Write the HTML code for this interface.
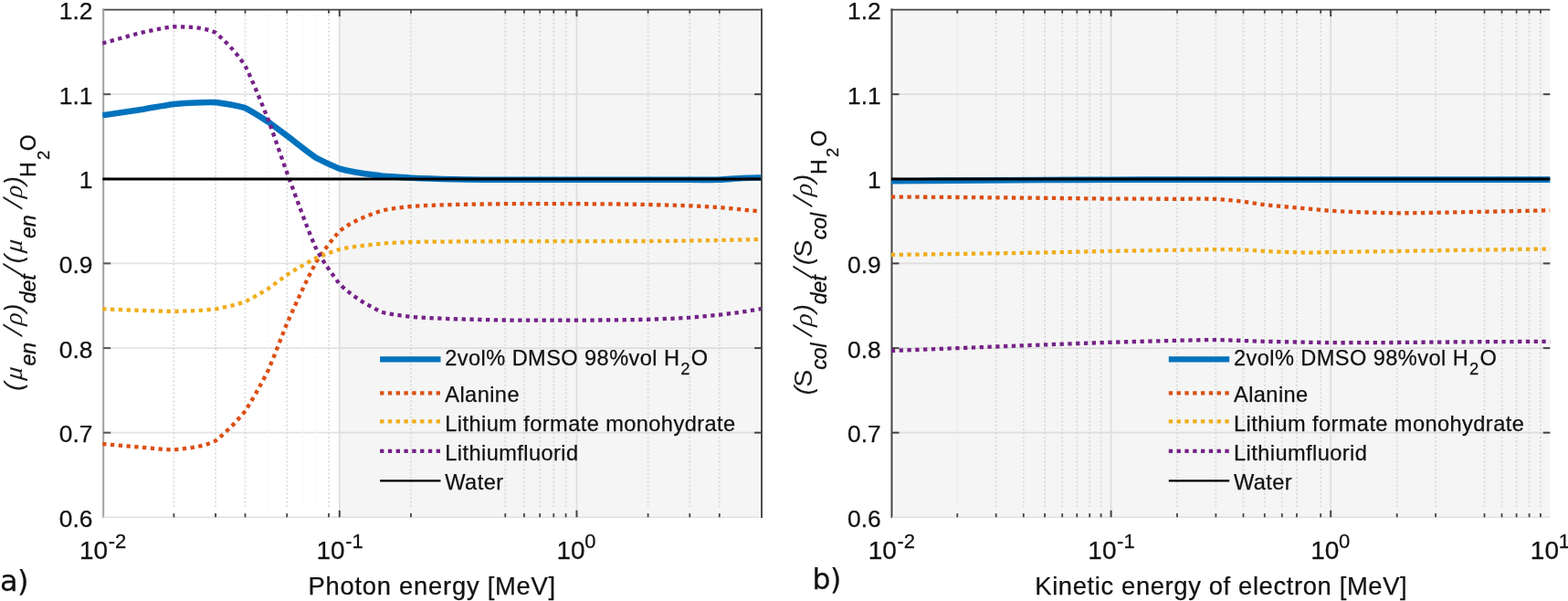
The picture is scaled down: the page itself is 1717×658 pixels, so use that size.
<!DOCTYPE html>
<html lang="en">
<head>
<meta charset="utf-8">
<title>Mass energy-absorption and collision stopping power ratios</title>
<style>
html, body { margin: 0; padding: 0; background: #ffffff; }
body { width: 1717px; height: 658px; overflow: hidden; }
svg { display: block; font-family: "Liberation Sans", Arial, Helvetica, sans-serif; fill: #1a1a1a; }
svg text { fill: #111; stroke: #111; stroke-width: 0.25px; }
svg .yl text { fill: #1c1c1c; stroke: none; }
svg .yl text.sub { fill: #111; stroke: #111; stroke-width: 0.3px; }
</style>
</head>
<body>
<svg width="1717" height="658" viewBox="0 0 1717 658">
<rect x="0" y="0" width="1717" height="658" fill="#ffffff"/>
<g>
<rect x="373.0" y="11.6" width="458.6" height="554.1" fill="#f5f5f5"/>
<line x1="112.2" y1="473.7" x2="373.0" y2="473.7" stroke="#e4e4e4" stroke-width="1.8"/>
<line x1="373.0" y1="473.7" x2="831.6" y2="473.7" stroke="#dedede" stroke-width="1.8"/>
<line x1="112.2" y1="381.1" x2="373.0" y2="381.1" stroke="#e4e4e4" stroke-width="1.8"/>
<line x1="373.0" y1="381.1" x2="831.6" y2="381.1" stroke="#dedede" stroke-width="1.8"/>
<line x1="112.2" y1="288.4" x2="373.0" y2="288.4" stroke="#e4e4e4" stroke-width="1.8"/>
<line x1="373.0" y1="288.4" x2="831.6" y2="288.4" stroke="#dedede" stroke-width="1.8"/>
<line x1="112.2" y1="195.8" x2="373.0" y2="195.8" stroke="#e4e4e4" stroke-width="1.8"/>
<line x1="373.0" y1="195.8" x2="831.6" y2="195.8" stroke="#dedede" stroke-width="1.8"/>
<line x1="112.2" y1="103.2" x2="373.0" y2="103.2" stroke="#e4e4e4" stroke-width="1.8"/>
<line x1="373.0" y1="103.2" x2="831.6" y2="103.2" stroke="#dedede" stroke-width="1.8"/>
<line x1="190.4" y1="16.0" x2="190.4" y2="557.3" stroke="#dcdcdc" stroke-width="1.8" stroke-dasharray="2 2.4"/>
<line x1="236.1" y1="16.0" x2="236.1" y2="557.3" stroke="#dcdcdc" stroke-width="1.8" stroke-dasharray="2 2.4"/>
<line x1="268.5" y1="16.0" x2="268.5" y2="557.3" stroke="#dcdcdc" stroke-width="1.8" stroke-dasharray="2 2.4"/>
<line x1="293.7" y1="16.0" x2="293.7" y2="557.3" stroke="#f6f6f6" stroke-width="1.8" stroke-dasharray="2 2.4"/>
<line x1="314.2" y1="16.0" x2="314.2" y2="557.3" stroke="#dcdcdc" stroke-width="1.8" stroke-dasharray="2 2.4"/>
<line x1="331.6" y1="16.0" x2="331.6" y2="557.3" stroke="#f6f6f6" stroke-width="1.8" stroke-dasharray="2 2.4"/>
<line x1="346.7" y1="16.0" x2="346.7" y2="557.3" stroke="#f6f6f6" stroke-width="1.8" stroke-dasharray="2 2.4"/>
<line x1="360.0" y1="16.0" x2="360.0" y2="557.3" stroke="#dcdcdc" stroke-width="1.8" stroke-dasharray="2 2.4"/>
<line x1="371.8" y1="10.6" x2="371.8" y2="566.3" stroke="#dedede" stroke-width="1.8"/>
<line x1="450.0" y1="16.0" x2="450.0" y2="557.3" stroke="#dadada" stroke-width="1.8" stroke-dasharray="2 2.4"/>
<line x1="553.3" y1="16.0" x2="553.3" y2="557.3" stroke="#dadada" stroke-width="1.8" stroke-dasharray="2 2.4"/>
<line x1="573.9" y1="16.0" x2="573.9" y2="557.3" stroke="#dadada" stroke-width="1.8" stroke-dasharray="2 2.4"/>
<line x1="591.2" y1="16.0" x2="591.2" y2="557.3" stroke="#dadada" stroke-width="1.8" stroke-dasharray="2 2.4"/>
<line x1="606.3" y1="16.0" x2="606.3" y2="557.3" stroke="#dadada" stroke-width="1.8" stroke-dasharray="2 2.4"/>
<line x1="619.6" y1="16.0" x2="619.6" y2="557.3" stroke="#dadada" stroke-width="1.8" stroke-dasharray="2 2.4"/>
<line x1="631.5" y1="10.6" x2="631.5" y2="566.3" stroke="#dedede" stroke-width="1.8"/>
<line x1="709.6" y1="16.0" x2="709.6" y2="557.3" stroke="#dadada" stroke-width="1.8" stroke-dasharray="2 2.4"/>
<line x1="755.3" y1="16.0" x2="755.3" y2="557.3" stroke="#dadada" stroke-width="1.8" stroke-dasharray="2 2.4"/>
<line x1="787.8" y1="16.0" x2="787.8" y2="557.3" stroke="#dadada" stroke-width="1.8" stroke-dasharray="2 2.4"/>
<line x1="112.2" y1="10.6" x2="835.0" y2="10.6" stroke="#444444" stroke-width="1.9"/>
<line x1="113.2" y1="9.6" x2="113.2" y2="566.9" stroke="#a2a2a2" stroke-width="2.0"/>
<line x1="113.2" y1="566.3" x2="831.6" y2="566.3" stroke="#e0e0e0" stroke-width="1.6"/>
<line x1="834.0" y1="9.6" x2="834.0" y2="567.1" stroke="#4c4c4c" stroke-width="2.0"/>
<line x1="113.2" y1="473.7" x2="121.2" y2="473.7" stroke="#555" stroke-width="2"/>
<line x1="826.1" y1="473.7" x2="833.6" y2="473.7" stroke="#444444" stroke-width="2"/>
<line x1="113.2" y1="381.1" x2="121.2" y2="381.1" stroke="#555" stroke-width="2"/>
<line x1="826.1" y1="381.1" x2="833.6" y2="381.1" stroke="#444444" stroke-width="2"/>
<line x1="113.2" y1="288.4" x2="121.2" y2="288.4" stroke="#555" stroke-width="2"/>
<line x1="826.1" y1="288.4" x2="833.6" y2="288.4" stroke="#444444" stroke-width="2"/>
<line x1="113.2" y1="195.8" x2="121.2" y2="195.8" stroke="#555" stroke-width="2"/>
<line x1="826.1" y1="195.8" x2="833.6" y2="195.8" stroke="#444444" stroke-width="2"/>
<line x1="113.2" y1="103.2" x2="121.2" y2="103.2" stroke="#555" stroke-width="2"/>
<line x1="826.1" y1="103.2" x2="833.6" y2="103.2" stroke="#444444" stroke-width="2"/>
<line x1="190.4" y1="10.6" x2="190.4" y2="14.8" stroke="#444444" stroke-width="1.8"/>
<line x1="190.4" y1="562.1" x2="190.4" y2="566.3" stroke="#444444" stroke-width="1.8"/>
<line x1="236.1" y1="10.6" x2="236.1" y2="14.8" stroke="#444444" stroke-width="1.8"/>
<line x1="236.1" y1="562.1" x2="236.1" y2="566.3" stroke="#444444" stroke-width="1.8"/>
<line x1="268.5" y1="10.6" x2="268.5" y2="14.8" stroke="#444444" stroke-width="1.8"/>
<line x1="268.5" y1="562.1" x2="268.5" y2="566.3" stroke="#444444" stroke-width="1.8"/>
<line x1="314.2" y1="10.6" x2="314.2" y2="14.8" stroke="#444444" stroke-width="1.8"/>
<line x1="314.2" y1="562.1" x2="314.2" y2="566.3" stroke="#444444" stroke-width="1.8"/>
<line x1="360.0" y1="10.6" x2="360.0" y2="14.8" stroke="#444444" stroke-width="1.8"/>
<line x1="360.0" y1="562.1" x2="360.0" y2="566.3" stroke="#444444" stroke-width="1.8"/>
<line x1="371.8" y1="10.6" x2="371.8" y2="18.1" stroke="#444444" stroke-width="2"/>
<line x1="371.8" y1="558.8" x2="371.8" y2="566.3" stroke="#444444" stroke-width="2"/>
<line x1="450.0" y1="10.6" x2="450.0" y2="14.8" stroke="#444444" stroke-width="1.8"/>
<line x1="450.0" y1="562.1" x2="450.0" y2="566.3" stroke="#444444" stroke-width="1.8"/>
<line x1="553.3" y1="10.6" x2="553.3" y2="14.8" stroke="#444444" stroke-width="1.8"/>
<line x1="553.3" y1="562.1" x2="553.3" y2="566.3" stroke="#444444" stroke-width="1.8"/>
<line x1="573.9" y1="10.6" x2="573.9" y2="14.8" stroke="#444444" stroke-width="1.8"/>
<line x1="573.9" y1="562.1" x2="573.9" y2="566.3" stroke="#444444" stroke-width="1.8"/>
<line x1="591.2" y1="10.6" x2="591.2" y2="14.8" stroke="#444444" stroke-width="1.8"/>
<line x1="591.2" y1="562.1" x2="591.2" y2="566.3" stroke="#444444" stroke-width="1.8"/>
<line x1="606.3" y1="10.6" x2="606.3" y2="14.8" stroke="#444444" stroke-width="1.8"/>
<line x1="606.3" y1="562.1" x2="606.3" y2="566.3" stroke="#444444" stroke-width="1.8"/>
<line x1="619.6" y1="10.6" x2="619.6" y2="14.8" stroke="#444444" stroke-width="1.8"/>
<line x1="619.6" y1="562.1" x2="619.6" y2="566.3" stroke="#444444" stroke-width="1.8"/>
<line x1="631.5" y1="10.6" x2="631.5" y2="18.1" stroke="#444444" stroke-width="2"/>
<line x1="631.5" y1="558.8" x2="631.5" y2="566.3" stroke="#444444" stroke-width="2"/>
<line x1="709.6" y1="10.6" x2="709.6" y2="14.8" stroke="#444444" stroke-width="1.8"/>
<line x1="709.6" y1="562.1" x2="709.6" y2="566.3" stroke="#444444" stroke-width="1.8"/>
<line x1="755.3" y1="10.6" x2="755.3" y2="14.8" stroke="#444444" stroke-width="1.8"/>
<line x1="755.3" y1="562.1" x2="755.3" y2="566.3" stroke="#444444" stroke-width="1.8"/>
<line x1="787.8" y1="10.6" x2="787.8" y2="14.8" stroke="#444444" stroke-width="1.8"/>
<line x1="787.8" y1="562.1" x2="787.8" y2="566.3" stroke="#444444" stroke-width="1.8"/>
<text x="101.5" y="576.7" font-size="26.4" text-anchor="end">0.6</text>
<text x="101.5" y="484.1" font-size="26.4" text-anchor="end">0.7</text>
<text x="101.5" y="391.5" font-size="26.4" text-anchor="end">0.8</text>
<text x="101.5" y="298.8" font-size="26.4" text-anchor="end">0.9</text>
<text x="101.5" y="206.2" font-size="26.4" text-anchor="end">1</text>
<text x="101.5" y="113.6" font-size="26.4" text-anchor="end">1.1</text>
<text x="101.5" y="21.0" font-size="26.4" text-anchor="end">1.2</text>
<text x="112.6" y="612.3" font-size="28" text-anchor="middle">10<tspan font-size="22" dy="-12.6" dx="0.6">-2</tspan></text>
<text x="372.2" y="612.3" font-size="28" text-anchor="middle">10<tspan font-size="22" dy="-12.6" dx="0.6">-1</tspan></text>
<text x="631.0" y="612.3" font-size="28" text-anchor="middle">10<tspan font-size="22" dy="-12.6" dx="-0.3">0</tspan></text>
<clipPath id="c1"><rect x="112.2" y="10.6" width="721.3" height="555.6999999999999"/></clipPath>
<g clip-path="url(#c1)">
<path d="M112.2,126.2 C127.4,123.9 142.7,121.8 157.9,119.4 C168.7,117.6 179.5,115.5 190.4,114.0 C205.6,112.8 220.8,111.6 236.1,112.1 C246.9,113.6 257.7,114.8 268.5,118.2 C276.9,122.4 285.3,128.0 293.7,133.4 C300.5,138.3 307.4,143.6 314.2,148.7 C325.0,156.8 335.9,166.0 346.7,173.2 C355.1,177.6 363.4,181.3 371.8,184.7 C387.1,188.9 402.3,190.5 417.6,192.6 C428.4,193.6 439.2,194.1 450.0,194.7 C465.2,195.4 480.5,195.9 495.7,196.3 C506.5,196.5 517.3,196.7 528.1,196.8 C536.5,196.8 544.9,196.8 553.3,196.8 C560.2,196.8 567.0,196.8 573.9,196.8 C584.7,196.8 595.5,196.8 606.3,196.8 C614.7,196.8 623.1,196.8 631.5,196.8 C639.9,196.8 648.2,196.8 656.6,196.8 C663.5,196.8 670.3,196.8 677.2,196.8 C688.0,196.8 698.8,196.8 709.6,196.8 C724.9,196.8 740.1,196.8 755.3,196.8 C766.2,196.8 777.0,197.0 787.8,196.8 C796.2,196.3 804.6,195.5 812.9,195.0 C819.8,194.8 826.6,194.7 833.5,194.5" fill="none" stroke="#0072BD" stroke-width="6.6" stroke-linejoin="round"/>
<path d="M112.2,486.1 C127.4,487.4 142.7,488.7 157.9,490.0 C168.7,490.9 179.5,492.4 190.4,492.5 C205.6,490.6 220.8,489.8 236.1,482.6 C246.9,473.7 257.7,463.4 268.5,450.0 C276.9,436.7 285.3,422.1 293.7,405.4 C300.5,389.6 307.4,370.8 314.2,354.3 C325.0,330.1 335.9,306.1 346.7,286.0 C355.1,273.4 363.4,262.7 371.8,253.0 C387.1,241.1 402.3,236.4 417.6,230.6 C428.4,228.2 439.2,227.3 450.0,226.0 C465.2,224.9 480.5,224.5 495.7,224.0 C506.5,223.8 517.3,223.7 528.1,223.5 C536.5,223.4 544.9,223.3 553.3,223.2 C560.2,223.2 567.0,223.2 573.9,223.2 C584.7,223.2 595.5,223.2 606.3,223.2 C614.7,223.2 623.1,223.2 631.5,223.2 C639.9,223.2 648.2,223.3 656.6,223.3 C663.5,223.4 670.3,223.4 677.2,223.5 C688.0,223.6 698.8,223.8 709.6,224.0 C724.9,224.4 740.1,224.7 755.3,225.3 C766.2,225.8 777.0,226.4 787.8,227.1 C796.2,227.8 804.6,228.7 812.9,229.5 C819.8,230.2 826.6,231.0 833.5,231.7" fill="none" stroke="#DC4E12" stroke-width="4.3" stroke-dasharray="4.3 4.5" stroke-linejoin="round"/>
<path d="M112.2,338.3 C127.4,338.9 142.7,339.5 157.9,340.0 C168.7,340.3 179.5,340.8 190.4,340.9 C205.6,340.4 220.8,340.1 236.1,338.3 C246.9,336.1 257.7,334.0 268.5,330.3 C276.9,326.2 285.3,321.2 293.7,316.0 C300.5,311.3 307.4,305.8 314.2,301.0 C325.0,294.2 335.9,287.8 346.7,282.2 C355.1,278.7 363.4,275.7 371.8,273.0 C387.1,269.7 402.3,268.4 417.6,266.7 C428.4,265.9 439.2,265.5 450.0,265.0 C465.2,264.6 480.5,264.6 495.7,264.5 C506.5,264.4 517.3,264.4 528.1,264.3 C536.5,264.3 544.9,264.2 553.3,264.2 C560.2,264.2 567.0,264.2 573.9,264.2 C584.7,264.2 595.5,264.2 606.3,264.2 C614.7,264.2 623.1,264.2 631.5,264.2 C639.9,264.2 648.2,264.1 656.6,264.1 C663.5,264.1 670.3,264.0 677.2,264.0 C688.0,264.0 698.8,264.0 709.6,264.0 C724.9,263.9 740.1,263.7 755.3,263.5 C766.2,263.3 777.0,263.2 787.8,263.0 C796.2,262.8 804.6,262.7 812.9,262.5 C819.8,262.3 826.6,262.2 833.5,262.0" fill="none" stroke="#F0AD1A" stroke-width="4.3" stroke-dasharray="4.3 4.5" stroke-linejoin="round"/>
<path d="M112.2,47.4 C127.4,43.3 142.7,38.7 157.9,35.0 C168.7,32.8 179.5,30.3 190.4,29.2 C205.6,29.8 220.8,28.8 236.1,35.8 C246.9,45.5 257.7,55.8 268.5,72.0 C276.9,89.2 285.3,110.1 293.7,131.0 C300.5,149.5 307.4,170.0 314.2,189.0 C325.0,218.0 335.9,249.1 346.7,273.5 C355.1,288.2 363.4,299.8 371.8,311.0 C387.1,325.6 402.3,333.9 417.6,341.6 C428.4,344.6 439.2,345.3 450.0,346.8 C465.2,348.1 480.5,348.5 495.7,349.2 C506.5,349.5 517.3,349.7 528.1,350.0 C536.5,350.2 544.9,350.4 553.3,350.5 C560.2,350.6 567.0,350.6 573.9,350.7 C584.7,350.7 595.5,350.7 606.3,350.7 C614.7,350.7 623.1,350.7 631.5,350.7 C639.9,350.7 648.2,350.6 656.6,350.5 C663.5,350.4 670.3,350.4 677.2,350.3 C688.0,350.2 698.8,350.0 709.6,349.8 C724.9,349.2 740.1,348.6 755.3,347.7 C766.2,346.8 777.0,345.8 787.8,344.7 C796.2,343.7 804.6,342.7 812.9,341.5 C819.8,340.4 826.6,339.2 833.5,338.0" fill="none" stroke="#742288" stroke-width="4.3" stroke-dasharray="4.3 4.5" stroke-linejoin="round"/>
<line x1="112.2" y1="196.0" x2="833.5" y2="196.0" stroke="#000" stroke-width="2.9"/>
</g>
</g>
<g>
<rect x="979.0" y="11.6" width="718.3" height="554.1" fill="#f5f5f5"/>
<line x1="979.0" y1="473.7" x2="1697.3" y2="473.7" stroke="#dedede" stroke-width="1.8"/>
<line x1="979.0" y1="381.1" x2="1697.3" y2="381.1" stroke="#dedede" stroke-width="1.8"/>
<line x1="979.0" y1="288.4" x2="1697.3" y2="288.4" stroke="#dedede" stroke-width="1.8"/>
<line x1="979.0" y1="195.8" x2="1697.3" y2="195.8" stroke="#dedede" stroke-width="1.8"/>
<line x1="979.0" y1="103.2" x2="1697.3" y2="103.2" stroke="#dedede" stroke-width="1.8"/>
<line x1="1048.3" y1="16.0" x2="1048.3" y2="557.3" stroke="#ebebeb" stroke-width="1.8" stroke-dasharray="2 2.4"/>
<line x1="1090.7" y1="16.0" x2="1090.7" y2="557.3" stroke="#dadada" stroke-width="1.8" stroke-dasharray="2 2.4"/>
<line x1="1120.8" y1="16.0" x2="1120.8" y2="557.3" stroke="#dadada" stroke-width="1.8" stroke-dasharray="2 2.4"/>
<line x1="1144.1" y1="16.0" x2="1144.1" y2="557.3" stroke="#dadada" stroke-width="1.8" stroke-dasharray="2 2.4"/>
<line x1="1163.2" y1="16.0" x2="1163.2" y2="557.3" stroke="#dadada" stroke-width="1.8" stroke-dasharray="2 2.4"/>
<line x1="1179.3" y1="16.0" x2="1179.3" y2="557.3" stroke="#dadada" stroke-width="1.8" stroke-dasharray="2 2.4"/>
<line x1="1193.2" y1="16.0" x2="1193.2" y2="557.3" stroke="#dadada" stroke-width="1.8" stroke-dasharray="2 2.4"/>
<line x1="1205.6" y1="16.0" x2="1205.6" y2="557.3" stroke="#dadada" stroke-width="1.8" stroke-dasharray="2 2.4"/>
<line x1="1216.6" y1="10.6" x2="1216.6" y2="566.3" stroke="#dedede" stroke-width="1.8"/>
<line x1="1289.0" y1="16.0" x2="1289.0" y2="557.3" stroke="#dadada" stroke-width="1.8" stroke-dasharray="2 2.4"/>
<line x1="1331.4" y1="16.0" x2="1331.4" y2="557.3" stroke="#dadada" stroke-width="1.8" stroke-dasharray="2 2.4"/>
<line x1="1361.5" y1="16.0" x2="1361.5" y2="557.3" stroke="#dadada" stroke-width="1.8" stroke-dasharray="2 2.4"/>
<line x1="1384.8" y1="16.0" x2="1384.8" y2="557.3" stroke="#dadada" stroke-width="1.8" stroke-dasharray="2 2.4"/>
<line x1="1403.8" y1="16.0" x2="1403.8" y2="557.3" stroke="#dadada" stroke-width="1.8" stroke-dasharray="2 2.4"/>
<line x1="1420.0" y1="16.0" x2="1420.0" y2="557.3" stroke="#dadada" stroke-width="1.8" stroke-dasharray="2 2.4"/>
<line x1="1446.2" y1="16.0" x2="1446.2" y2="557.3" stroke="#dadada" stroke-width="1.8" stroke-dasharray="2 2.4"/>
<line x1="1457.2" y1="10.6" x2="1457.2" y2="566.3" stroke="#dedede" stroke-width="1.8"/>
<line x1="1529.7" y1="16.0" x2="1529.7" y2="557.3" stroke="#dadada" stroke-width="1.8" stroke-dasharray="2 2.4"/>
<line x1="1572.1" y1="16.0" x2="1572.1" y2="557.3" stroke="#dadada" stroke-width="1.8" stroke-dasharray="2 2.4"/>
<line x1="1625.5" y1="16.0" x2="1625.5" y2="557.3" stroke="#dadada" stroke-width="1.8" stroke-dasharray="2 2.4"/>
<line x1="1644.5" y1="16.0" x2="1644.5" y2="557.3" stroke="#dadada" stroke-width="1.8" stroke-dasharray="2 2.4"/>
<line x1="1660.6" y1="16.0" x2="1660.6" y2="557.3" stroke="#dadada" stroke-width="1.8" stroke-dasharray="2 2.4"/>
<line x1="1674.6" y1="16.0" x2="1674.6" y2="557.3" stroke="#dadada" stroke-width="1.8" stroke-dasharray="2 2.4"/>
<line x1="1686.9" y1="16.0" x2="1686.9" y2="557.3" stroke="#dadada" stroke-width="1.8" stroke-dasharray="2 2.4"/>
<line x1="975.5" y1="10.6" x2="1697.3" y2="10.6" stroke="#444444" stroke-width="1.9"/>
<line x1="976.5" y1="9.6" x2="976.5" y2="566.9" stroke="#444444" stroke-width="2.0"/>
<line x1="976.9" y1="566.3" x2="1697.3" y2="566.3" stroke="#e0e0e0" stroke-width="1.6"/>
<line x1="976.5" y1="473.7" x2="984.5" y2="473.7" stroke="#444444" stroke-width="2"/>
<line x1="1689.8" y1="473.7" x2="1697.3" y2="473.7" stroke="#444444" stroke-width="2"/>
<line x1="976.5" y1="381.1" x2="984.5" y2="381.1" stroke="#444444" stroke-width="2"/>
<line x1="1689.8" y1="381.1" x2="1697.3" y2="381.1" stroke="#444444" stroke-width="2"/>
<line x1="976.5" y1="288.4" x2="984.5" y2="288.4" stroke="#444444" stroke-width="2"/>
<line x1="1689.8" y1="288.4" x2="1697.3" y2="288.4" stroke="#444444" stroke-width="2"/>
<line x1="976.5" y1="195.8" x2="984.5" y2="195.8" stroke="#444444" stroke-width="2"/>
<line x1="1689.8" y1="195.8" x2="1697.3" y2="195.8" stroke="#444444" stroke-width="2"/>
<line x1="976.5" y1="103.2" x2="984.5" y2="103.2" stroke="#444444" stroke-width="2"/>
<line x1="1689.8" y1="103.2" x2="1697.3" y2="103.2" stroke="#444444" stroke-width="2"/>
<line x1="1048.3" y1="10.6" x2="1048.3" y2="14.8" stroke="#444444" stroke-width="1.8"/>
<line x1="1048.3" y1="562.1" x2="1048.3" y2="566.3" stroke="#444444" stroke-width="1.8"/>
<line x1="1090.7" y1="10.6" x2="1090.7" y2="14.8" stroke="#444444" stroke-width="1.8"/>
<line x1="1090.7" y1="562.1" x2="1090.7" y2="566.3" stroke="#444444" stroke-width="1.8"/>
<line x1="1120.8" y1="10.6" x2="1120.8" y2="14.8" stroke="#444444" stroke-width="1.8"/>
<line x1="1120.8" y1="562.1" x2="1120.8" y2="566.3" stroke="#444444" stroke-width="1.8"/>
<line x1="1144.1" y1="10.6" x2="1144.1" y2="14.8" stroke="#444444" stroke-width="1.8"/>
<line x1="1144.1" y1="562.1" x2="1144.1" y2="566.3" stroke="#444444" stroke-width="1.8"/>
<line x1="1163.2" y1="10.6" x2="1163.2" y2="14.8" stroke="#444444" stroke-width="1.8"/>
<line x1="1163.2" y1="562.1" x2="1163.2" y2="566.3" stroke="#444444" stroke-width="1.8"/>
<line x1="1179.3" y1="10.6" x2="1179.3" y2="14.8" stroke="#444444" stroke-width="1.8"/>
<line x1="1179.3" y1="562.1" x2="1179.3" y2="566.3" stroke="#444444" stroke-width="1.8"/>
<line x1="1193.2" y1="10.6" x2="1193.2" y2="14.8" stroke="#444444" stroke-width="1.8"/>
<line x1="1193.2" y1="562.1" x2="1193.2" y2="566.3" stroke="#444444" stroke-width="1.8"/>
<line x1="1205.6" y1="10.6" x2="1205.6" y2="14.8" stroke="#444444" stroke-width="1.8"/>
<line x1="1205.6" y1="562.1" x2="1205.6" y2="566.3" stroke="#444444" stroke-width="1.8"/>
<line x1="1216.6" y1="10.6" x2="1216.6" y2="18.1" stroke="#444444" stroke-width="2"/>
<line x1="1216.6" y1="558.8" x2="1216.6" y2="566.3" stroke="#444444" stroke-width="2"/>
<line x1="1289.0" y1="10.6" x2="1289.0" y2="14.8" stroke="#444444" stroke-width="1.8"/>
<line x1="1289.0" y1="562.1" x2="1289.0" y2="566.3" stroke="#444444" stroke-width="1.8"/>
<line x1="1331.4" y1="10.6" x2="1331.4" y2="14.8" stroke="#444444" stroke-width="1.8"/>
<line x1="1331.4" y1="562.1" x2="1331.4" y2="566.3" stroke="#444444" stroke-width="1.8"/>
<line x1="1361.5" y1="10.6" x2="1361.5" y2="14.8" stroke="#444444" stroke-width="1.8"/>
<line x1="1361.5" y1="562.1" x2="1361.5" y2="566.3" stroke="#444444" stroke-width="1.8"/>
<line x1="1384.8" y1="10.6" x2="1384.8" y2="14.8" stroke="#444444" stroke-width="1.8"/>
<line x1="1384.8" y1="562.1" x2="1384.8" y2="566.3" stroke="#444444" stroke-width="1.8"/>
<line x1="1403.8" y1="10.6" x2="1403.8" y2="14.8" stroke="#444444" stroke-width="1.8"/>
<line x1="1403.8" y1="562.1" x2="1403.8" y2="566.3" stroke="#444444" stroke-width="1.8"/>
<line x1="1420.0" y1="10.6" x2="1420.0" y2="14.8" stroke="#444444" stroke-width="1.8"/>
<line x1="1420.0" y1="562.1" x2="1420.0" y2="566.3" stroke="#444444" stroke-width="1.8"/>
<line x1="1446.2" y1="10.6" x2="1446.2" y2="14.8" stroke="#444444" stroke-width="1.8"/>
<line x1="1446.2" y1="562.1" x2="1446.2" y2="566.3" stroke="#444444" stroke-width="1.8"/>
<line x1="1457.2" y1="10.6" x2="1457.2" y2="18.1" stroke="#444444" stroke-width="2"/>
<line x1="1457.2" y1="558.8" x2="1457.2" y2="566.3" stroke="#444444" stroke-width="2"/>
<line x1="1529.7" y1="10.6" x2="1529.7" y2="14.8" stroke="#444444" stroke-width="1.8"/>
<line x1="1529.7" y1="562.1" x2="1529.7" y2="566.3" stroke="#444444" stroke-width="1.8"/>
<line x1="1572.1" y1="10.6" x2="1572.1" y2="14.8" stroke="#444444" stroke-width="1.8"/>
<line x1="1572.1" y1="562.1" x2="1572.1" y2="566.3" stroke="#444444" stroke-width="1.8"/>
<line x1="1625.5" y1="10.6" x2="1625.5" y2="14.8" stroke="#444444" stroke-width="1.8"/>
<line x1="1625.5" y1="562.1" x2="1625.5" y2="566.3" stroke="#444444" stroke-width="1.8"/>
<line x1="1644.5" y1="10.6" x2="1644.5" y2="14.8" stroke="#444444" stroke-width="1.8"/>
<line x1="1644.5" y1="562.1" x2="1644.5" y2="566.3" stroke="#444444" stroke-width="1.8"/>
<line x1="1660.6" y1="10.6" x2="1660.6" y2="14.8" stroke="#444444" stroke-width="1.8"/>
<line x1="1660.6" y1="562.1" x2="1660.6" y2="566.3" stroke="#444444" stroke-width="1.8"/>
<line x1="1674.6" y1="10.6" x2="1674.6" y2="14.8" stroke="#444444" stroke-width="1.8"/>
<line x1="1674.6" y1="562.1" x2="1674.6" y2="566.3" stroke="#444444" stroke-width="1.8"/>
<line x1="1686.9" y1="10.6" x2="1686.9" y2="14.8" stroke="#444444" stroke-width="1.8"/>
<line x1="1686.9" y1="562.1" x2="1686.9" y2="566.3" stroke="#444444" stroke-width="1.8"/>
<text x="964.8" y="576.7" font-size="26.4" text-anchor="end">0.6</text>
<text x="964.8" y="484.1" font-size="26.4" text-anchor="end">0.7</text>
<text x="964.8" y="391.5" font-size="26.4" text-anchor="end">0.8</text>
<text x="964.8" y="298.8" font-size="26.4" text-anchor="end">0.9</text>
<text x="964.8" y="206.2" font-size="26.4" text-anchor="end">1</text>
<text x="964.8" y="113.6" font-size="26.4" text-anchor="end">1.1</text>
<text x="964.8" y="21.0" font-size="26.4" text-anchor="end">1.2</text>
<text x="976.3" y="612.3" font-size="28" text-anchor="middle">10<tspan font-size="22" dy="-12.6" dx="0.6">-2</tspan></text>
<text x="1217.0" y="612.3" font-size="28" text-anchor="middle">10<tspan font-size="22" dy="-12.6" dx="0.6">-1</tspan></text>
<text x="1456.7" y="612.3" font-size="28" text-anchor="middle">10<tspan font-size="22" dy="-12.6" dx="-0.3">0</tspan></text>
<text x="1697.4" y="612.3" font-size="28" text-anchor="middle">10<tspan font-size="22" dy="-12.6" dx="-0.3">1</tspan></text>
<clipPath id="c2"><rect x="975.9" y="10.6" width="721.4" height="555.6999999999999"/></clipPath>
<g clip-path="url(#c2)">
<path d="M975.9,198.3 C1000.0,198.1 1024.2,197.8 1048.3,197.6 C1080.3,197.4 1112.2,197.2 1144.1,197.0 C1168.3,196.9 1192.4,196.9 1216.6,196.8 C1240.7,196.7 1264.9,196.6 1289.0,196.6 C1303.1,196.6 1317.3,196.6 1331.4,196.6 C1341.4,196.6 1351.4,196.6 1361.5,196.6 C1369.2,196.6 1377.0,196.6 1384.8,196.6 C1391.1,196.6 1397.5,196.6 1403.8,196.6 C1413.9,196.6 1423.9,196.6 1433.9,196.6 C1441.7,196.6 1449.5,196.6 1457.2,196.6 C1481.4,196.6 1505.5,196.6 1529.7,196.6 C1543.8,196.6 1557.9,196.6 1572.1,196.6 C1589.9,196.6 1607.7,196.6 1625.5,196.6 C1649.6,196.6 1673.8,196.6 1697.9,196.6" fill="none" stroke="#0072BD" stroke-width="6.6" stroke-linejoin="round"/>
<path d="M975.9,215.5 C1000.0,215.7 1024.2,215.8 1048.3,216.0 C1080.3,216.3 1112.2,216.5 1144.1,216.8 C1168.3,217.1 1192.4,217.4 1216.6,217.6 C1240.7,217.7 1264.9,217.7 1289.0,217.8 C1303.1,217.8 1317.3,217.5 1331.4,217.9 C1341.4,218.6 1351.4,219.6 1361.5,220.7 C1369.2,221.8 1377.0,223.2 1384.8,224.2 C1391.1,224.9 1397.5,225.4 1403.8,226.0 C1413.9,226.9 1423.9,227.8 1433.9,228.7 C1441.7,229.4 1449.5,230.2 1457.2,230.8 C1481.4,232.2 1505.5,232.9 1529.7,233.3 C1543.8,233.3 1557.9,233.0 1572.1,232.8 C1589.9,232.5 1607.7,232.1 1625.5,231.8 C1649.6,231.3 1673.8,230.8 1697.9,230.3" fill="none" stroke="#DC4E12" stroke-width="4.3" stroke-dasharray="4.3 4.5" stroke-linejoin="round"/>
<path d="M975.9,279.0 C1000.0,278.7 1024.2,278.3 1048.3,278.0 C1080.3,277.5 1112.2,277.1 1144.1,276.5 C1168.3,276.0 1192.4,275.4 1216.6,274.9 C1240.7,274.5 1264.9,274.2 1289.0,273.8 C1303.1,273.6 1317.3,273.2 1331.4,273.1 C1341.4,273.2 1351.4,273.2 1361.5,273.5 C1369.2,273.9 1377.0,274.6 1384.8,275.0 C1391.1,275.3 1397.5,275.6 1403.8,275.8 C1413.9,276.1 1423.9,276.5 1433.9,276.6 C1441.7,276.5 1449.5,276.2 1457.2,276.0 C1481.4,275.5 1505.5,275.4 1529.7,275.0 C1543.8,274.8 1557.9,274.5 1572.1,274.3 C1589.9,274.0 1607.7,273.8 1625.5,273.5 C1649.6,273.2 1673.8,272.8 1697.9,272.5" fill="none" stroke="#F0AD1A" stroke-width="4.3" stroke-dasharray="4.3 4.5" stroke-linejoin="round"/>
<path d="M975.9,384.0 C1000.0,383.1 1024.2,382.1 1048.3,381.2 C1080.3,379.9 1112.2,378.6 1144.1,377.4 C1168.3,376.5 1192.4,375.6 1216.6,374.8 C1240.7,374.1 1264.9,373.4 1289.0,372.8 C1303.1,372.5 1317.3,372.1 1331.4,372.1 C1341.4,372.3 1351.4,372.7 1361.5,373.0 C1369.2,373.3 1377.0,373.6 1384.8,373.8 C1391.1,374.0 1397.5,374.1 1403.8,374.2 C1413.9,374.4 1423.9,374.6 1433.9,374.8 C1441.7,374.9 1449.5,375.1 1457.2,375.2 C1481.4,375.3 1505.5,375.1 1529.7,375.0 C1543.8,374.9 1557.9,374.7 1572.1,374.6 C1589.9,374.5 1607.7,374.3 1625.5,374.2 C1649.6,374.1 1673.8,373.9 1697.9,373.8" fill="none" stroke="#742288" stroke-width="4.3" stroke-dasharray="4.3 4.5" stroke-linejoin="round"/>
<line x1="975.9" y1="196.0" x2="1697.9" y2="196.0" stroke="#000" stroke-width="2.9"/>
</g>
</g>
<line x1="416.1" y1="393.3" x2="482.5" y2="393.3" stroke="#0072BD" stroke-width="6.2"/>
<text x="487.3" y="399.5" font-size="23.6" text-anchor="start" letter-spacing="0.42">2vol% DMSO 98%vol H<tspan font-size="18.5" dy="10.8" dx="0.8">2</tspan><tspan dy="-10.8" dx="0.8">O</tspan></text>
<line x1="416.1" y1="430.4" x2="482.5" y2="430.4" stroke="#DC4E12" stroke-width="4.3" stroke-dasharray="4.3 4.5"/>
<text x="487.3" y="439.8" font-size="23.6" text-anchor="start" letter-spacing="0.42">Alanine</text>
<line x1="416.1" y1="461.4" x2="482.5" y2="461.4" stroke="#F0AD1A" stroke-width="4.3" stroke-dasharray="4.3 4.5"/>
<text x="487.3" y="471.6" font-size="23.6" text-anchor="start" letter-spacing="0.42">Lithium formate monohydrate</text>
<line x1="416.1" y1="493.8" x2="482.5" y2="493.8" stroke="#742288" stroke-width="4.3" stroke-dasharray="4.3 4.5"/>
<text x="487.3" y="503.9" font-size="23.6" text-anchor="start" letter-spacing="0.42">Lithiumfluorid</text>
<line x1="416.1" y1="526.4" x2="482.5" y2="526.4" stroke="#000" stroke-width="2.2"/>
<text x="487.3" y="536.2" font-size="23.6" text-anchor="start" letter-spacing="0.42">Water</text>
<line x1="1279.8" y1="393.3" x2="1346.2" y2="393.3" stroke="#0072BD" stroke-width="6.2"/>
<text x="1351.0" y="399.5" font-size="23.6" text-anchor="start" letter-spacing="0.42">2vol% DMSO 98%vol H<tspan font-size="18.5" dy="10.8" dx="0.8">2</tspan><tspan dy="-10.8" dx="0.8">O</tspan></text>
<line x1="1279.8" y1="430.4" x2="1346.2" y2="430.4" stroke="#DC4E12" stroke-width="4.3" stroke-dasharray="4.3 4.5"/>
<text x="1351.0" y="439.8" font-size="23.6" text-anchor="start" letter-spacing="0.42">Alanine</text>
<line x1="1279.8" y1="461.4" x2="1346.2" y2="461.4" stroke="#F0AD1A" stroke-width="4.3" stroke-dasharray="4.3 4.5"/>
<text x="1351.0" y="471.6" font-size="23.6" text-anchor="start" letter-spacing="0.42">Lithium formate monohydrate</text>
<line x1="1279.8" y1="493.8" x2="1346.2" y2="493.8" stroke="#742288" stroke-width="4.3" stroke-dasharray="4.3 4.5"/>
<text x="1351.0" y="503.9" font-size="23.6" text-anchor="start" letter-spacing="0.42">Lithiumfluorid</text>
<line x1="1279.8" y1="526.4" x2="1346.2" y2="526.4" stroke="#000" stroke-width="2.2"/>
<text x="1351.0" y="536.2" font-size="23.6" text-anchor="start" letter-spacing="0.42">Water</text>
<text x="473.2" y="650.9" font-size="27.4" text-anchor="middle" letter-spacing="0.75">Photon energy [MeV]</text>
<text x="1337.3" y="650.9" font-size="27.4" text-anchor="middle" letter-spacing="0.62">Kinetic energy of electron [MeV]</text>
<text x="0.0" y="647.0" font-size="32" text-anchor="start" letter-spacing="-0.5" font-family='"DejaVu Sans", "Liberation Sans", sans-serif'>a)</text>
<text x="889.5" y="644.6" font-size="31.5" text-anchor="start" letter-spacing="-0.5" font-family='"DejaVu Sans", "Liberation Sans", sans-serif'>b)</text>
<g class="yl" transform="translate(24.0,427.0) rotate(-90)">
<text x="-1.0" y="0.0" font-size="28.5" font-style="italic">(</text>
<text transform="translate(10.6,0.0) skewX(-6)" font-size="28" font-style="italic" font-family='"Liberation Serif", "DejaVu Serif", serif'>μ</text>
<text x="26.5" y="15.2" font-size="23" font-style="italic" class="sub">en</text>
<text transform="translate(59.6,0.0) skewX(-8)" font-size="28.5" font-style="italic">/</text>
<text transform="translate(70.4,0.0) skewX(-6)" font-size="28" font-style="italic" font-family='"Liberation Serif", "DejaVu Serif", serif'>ρ</text>
<text x="85.0" y="0.0" font-size="28.5" font-style="italic">)</text>
<text x="94.7" y="15.2" font-size="23" font-style="italic" class="sub">det</text>
<text transform="translate(126.0,0.0) skewX(-8)" font-size="28.5" font-style="italic">/</text>
<text x="138.5" y="0.0" font-size="28.5" font-style="italic">(</text>
<text transform="translate(150.1,0.0) skewX(-6)" font-size="28" font-style="italic" font-family='"Liberation Serif", "DejaVu Serif", serif'>μ</text>
<text x="166.0" y="15.2" font-size="23" font-style="italic" class="sub">en</text>
<text transform="translate(199.1,0.0) skewX(-8)" font-size="28.5" font-style="italic">/</text>
<text transform="translate(209.9,0.0) skewX(-6)" font-size="28" font-style="italic" font-family='"Liberation Serif", "DejaVu Serif", serif'>ρ</text>
<text x="224.5" y="0.0" font-size="28.5" font-style="italic">)</text>
<text x="233.1" y="15.2" font-size="23" class="sub">H</text>
<text x="252.0" y="30.2" font-size="18.5" class="sub">2</text>
<text x="261.8" y="15.2" font-size="23" class="sub">O</text>
</g>
<g class="yl" transform="translate(889.3,432.0) rotate(-90)">
<text x="-0.6" y="0.0" font-size="28.5" font-style="italic">(</text>
<text x="8.2" y="0.0" font-size="28.5">S</text>
<text x="27.3" y="15.4" font-size="23" font-style="italic" class="sub">col</text>
<text transform="translate(64.0,0.0) skewX(-8)" font-size="28.5" font-style="italic">/</text>
<text transform="translate(74.6,0.0) skewX(-6)" font-size="28" font-style="italic" font-family='"Liberation Serif", "DejaVu Serif", serif'>ρ</text>
<text x="89.4" y="0.0" font-size="28.5" font-style="italic">)</text>
<text x="98.7" y="15.4" font-size="23" font-style="italic" class="sub">det</text>
<text transform="translate(128.3,0.0) skewX(-8)" font-size="28.5" font-style="italic">/</text>
<text x="141.8" y="0.0" font-size="28.5" font-style="italic">(</text>
<text x="150.6" y="0.0" font-size="28.5">S</text>
<text x="169.7" y="15.4" font-size="23" font-style="italic" class="sub">col</text>
<text transform="translate(206.4,0.0) skewX(-8)" font-size="28.5" font-style="italic">/</text>
<text transform="translate(217.0,0.0) skewX(-6)" font-size="28" font-style="italic" font-family='"Liberation Serif", "DejaVu Serif", serif'>ρ</text>
<text x="231.8" y="0.0" font-size="28.5" font-style="italic">)</text>
<text x="241.0" y="15.4" font-size="23" class="sub">H</text>
<text x="260.0" y="29.0" font-size="18.5" class="sub">2</text>
<text x="271.4" y="15.4" font-size="23" class="sub">O</text>
</g>
</svg>
</body>
</html>
